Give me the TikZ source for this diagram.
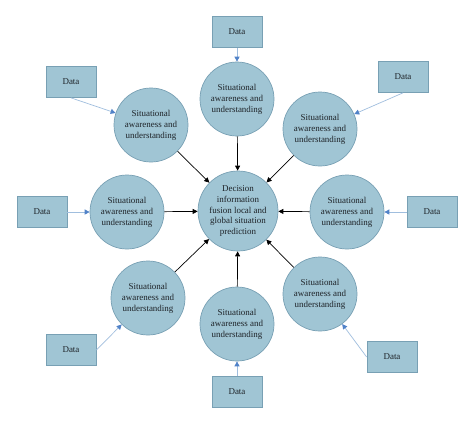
\documentclass[tikz,border=0pt]{standalone}
\usepackage{fontspec}
\setmainfont{Liberation Serif}
\usepackage{tikz}
\usetikzlibrary{arrows.meta}
\definecolor{nodefill}{RGB}{160,197,212}
\definecolor{nodeline}{RGB}{120,160,180}
\definecolor{datalink}{RGB}{160,190,222}
\definecolor{datatip}{RGB}{80,130,200}
\definecolor{textcol}{RGB}{30,35,40}
\tikzset{
	sa/.style={circle,draw=nodeline,fill=nodefill,line width=.7pt,minimum size=74bp,inner sep=0pt,align=center,text=textcol,font=\fontsize{9}{11}\selectfont},
	databox/.style={rectangle,draw=nodeline,fill=nodefill,line width=.7pt,minimum width=50bp,minimum height=31bp,text=textcol,font=\fontsize{9}{11}\selectfont},
	tocenter/.style={-{Triangle[length=5pt,width=5pt]},line width=.7pt,black},
	fromdata/.style={-{Triangle[length=5pt,width=5pt,color=datatip]},line width=.7pt,draw=datalink},
}
\begin{document}
\begin{tikzpicture}[x=1bp,y=-1bp]
	\useasboundingbox[fill=white] (0,0) rectangle (474,424);
	\node[sa,minimum size=80bp] at (238,211) (C) {Decision\\information\\fusion local and\\global situation\\prediction};
	\node[sa] at (237,99) (sN) {Situational\\awareness and\\understanding};
	\node[sa] at (320,129) (sNE) {Situational\\awareness and\\understanding};
	\node[sa] at (347,212) (sE) {Situational\\awareness and\\understanding};
	\node[sa] at (320,294) (sSE) {Situational\\awareness and\\understanding};
	\node[sa] at (237,324) (sS) {Situational\\awareness and\\understanding};
	\node[sa] at (148,298) (sSW) {Situational\\awareness and\\understanding};
	\node[sa] at (127,212) (sW) {Situational\\awareness and\\understanding};
	\node[sa] at (151,125) (sNW) {Situational\\awareness and\\understanding};
	\node[databox] at (237,32) (dN) {Data};
	\node[databox] at (403,77) (dNE) {Data};
	\node[databox] at (432,212) (dE) {Data};
	\node[databox] at (392,357) (dSE) {Data};
	\node[databox] at (237,392) (dS) {Data};
	\node[databox] at (71,350) (dSW) {Data};
	\node[databox] at (42,212) (dW) {Data};
	\node[databox] at (71,82) (dNW) {Data};
	\draw[tocenter] (sN) -- (C);
	\draw[tocenter] (sNE) -- (C);
	\draw[tocenter] (sE) -- (C);
	\draw[tocenter] (sSE) -- (C);
	\draw[tocenter] (sS) -- (C);
	\draw[tocenter] (sSW) -- (C);
	\draw[tocenter] (sW) -- (C);
	\draw[tocenter] (sNW) -- (C);
	\draw[fromdata] (dN) -- (sN);
	\draw[fromdata] (dNE.south) -- (sNE);
	\draw[fromdata] (dE) -- (sE);
	\draw[fromdata] (dSE.west) -- (sSE);
	\draw[fromdata] (dS) -- (sS);
	\draw[fromdata] (dSW.east) -- (sSW);
	\draw[fromdata] (dW) -- (sW);
	\draw[fromdata] (dNW.south) -- (sNW);
\end{tikzpicture}
\end{document}
